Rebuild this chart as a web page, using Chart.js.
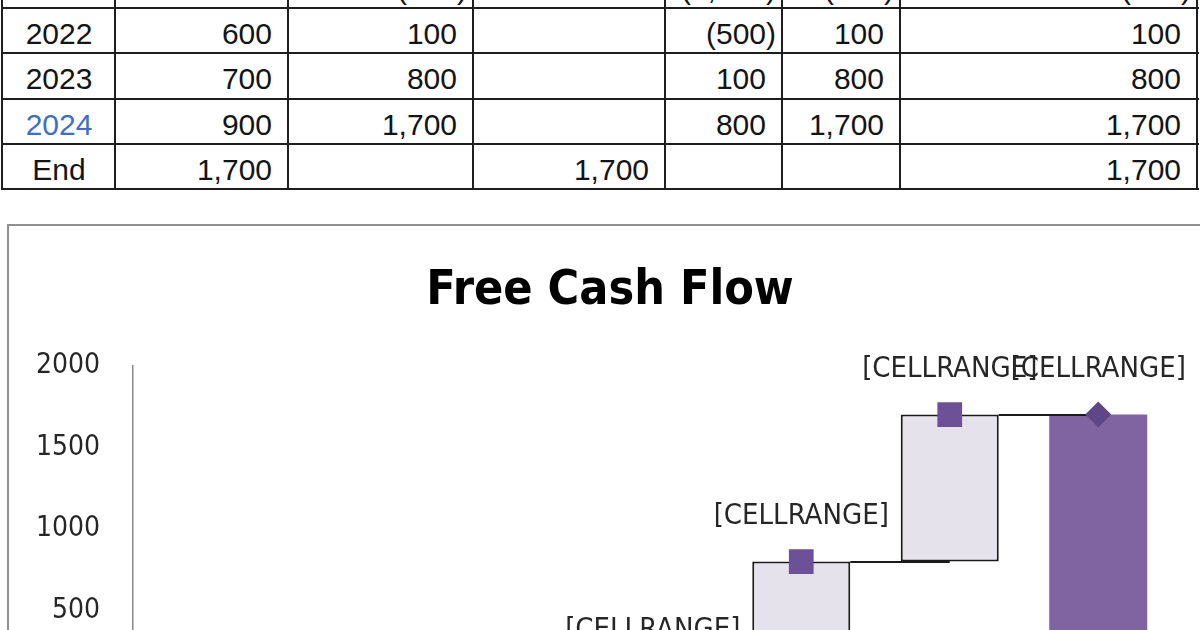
<!DOCTYPE html>
<html><head><meta charset="utf-8">
<script src="https://cdn.jsdelivr.net/npm/chart.js@4.4.0/dist/chart.umd.min.js"></script>
<style>
html,body{margin:0;padding:0;background:#fff;width:1200px;height:630px;overflow:hidden;position:relative;}
.cell{position:absolute;font-family:"Liberation Sans",Arial,sans-serif;font-size:30px;color:#141414;white-space:nowrap;line-height:45px;box-sizing:border-box;}
.hl{position:absolute;height:2px;background:#1e1e1e;}
.vl{position:absolute;width:2px;background:#1e1e1e;}
#frame{position:absolute;left:7px;top:224px;width:1300px;height:600px;border-left:2px solid #8f8f8f;border-top:2px solid #8f8f8f;background:#fff;}
#c{position:absolute;left:10px;top:228px;}
</style>
</head><body>
<div id="tbl"></div>
<div id="frame"></div>
<canvas id="c" width="1200" height="759"></canvas>
<script>
// ---- table data ----
const tableRows = ["2021","2022","2023","2024","End"];
const tblFCF    = [500, 600, 700, 900, 1700];
const tblCum    = [-500, 100, 800, 1700, null];
const tblTotal  = [null, null, null, null, 1700];
const tblBase   = [-1000, -500, 100, 800, null];
const tblTop    = [-500, 100, 800, 1700, null];
const tblLabel  = [-500, 100, 800, 1700, 1700];

// ---- chart data ----
const categories   = ["Start","2020","2021","2022","2023","2024","End"];
const barFrom      = [0, -800, -1000, -500, 100, 800, 0];
const barTo        = [-800, -1000, -500, 100, 800, 1700, 1700];
const markerValues = [-800, -1000, -500, 100, 800, 1700, 1700];
const isTotal      = [true, false, false, false, false, false, true];
const pointLabels  = ["[CELLRANGE]","[CELLRANGE]","[CELLRANGE]","[CELLRANGE]","[CELLRANGE]","[CELLRANGE]","[CELLRANGE]"];
const chartTitle   = "Free Cash Flow";

// ---- build the table ----
(function(){
  const tbl = document.getElementById('tbl');
  const colX = [2,115,288,473,665,782,900,1197];
  const rowY = [-37.3,8,53.3,98.6,144,189.2];
  const cols = [null, tblFCF, tblCum, tblTotal, tblBase, tblTop, tblLabel];
  function fmt(v){
    if (v === null || v === undefined) return '';
    const s = Math.abs(v).toLocaleString('en-US');
    return v < 0 ? '(' + s + ')' : s + '<span style="visibility:hidden">)</span>';
  }
  for (let r = 0; r < tableRows.length; r++) {
    for (let c = 0; c < 7; c++) {
      const d = document.createElement('div');
      d.className = 'cell';
      d.style.left = (colX[c] + 1) + 'px';
      d.style.width = (colX[c+1] - colX[c] - 1) + 'px';
      d.style.top = (rowY[r] + 3) + 'px';
      d.style.height = '45px';
      if (c === 0) {
        d.style.textAlign = 'center';
        d.textContent = tableRows[r];
        if (tableRows[r] === '2024') d.style.color = '#3f6fbf';
      } else {
        d.style.textAlign = 'right';
        d.style.paddingRight = '6px';
        d.innerHTML = fmt(cols[c][r]);
      }
      tbl.appendChild(d);
    }
  }
  rowY.forEach(y => { const l = document.createElement('div'); l.className='hl'; l.style.left='2px'; l.style.width='1197px'; l.style.top=(y-1)+'px'; tbl.appendChild(l); });
  colX.forEach(x => { const l = document.createElement('div'); l.className='vl'; l.style.left=(x-1)+'px'; l.style.top='-40px'; l.style.height='230px'; tbl.appendChild(l); });
})();

// ---- chart ----
const FONT = '"Liberation Sans Narrow","Arial Narrow","DejaVu Sans Condensed",sans-serif';

const connectorPlugin = {
  id: 'connectors',
  afterDatasetDraw(chart, args) {
    if (args.index !== 0) return;
    const meta = args.meta, y = chart.scales.y, ctx = chart.ctx;
    ctx.save();
    ctx.strokeStyle = '#1a1a1a';
    ctx.lineWidth = 2;
    for (let i = 0; i < meta.data.length - 1; i++) {
      const b = meta.data[i], n = meta.data[i+1];
      const py = Math.round(y.getPixelForValue(barTo[i]));
      ctx.beginPath();
      ctx.moveTo(b.x + b.width/2, py);
      ctx.lineTo(n.x, py);
      ctx.stroke();
    }
    ctx.restore();
  }
};

const labelPlugin = {
  id: 'pointLabels',
  afterDatasetsDraw(chart) {
    const meta = chart.getDatasetMeta(1), ctx = chart.ctx;
    ctx.save();
    ctx.font = '29px ' + FONT;
    ctx.fillStyle = '#262626';
    ctx.textAlign = 'center';
    ctx.textBaseline = 'middle';
    meta.data.forEach((p, i) => ctx.fillText(pointLabels[i], p.x, p.y - 45));
    ctx.restore();
  }
};

new Chart(document.getElementById('c'), {
  type: 'bar',
  data: {
    labels: categories,
    datasets: [
      {
        type: 'bar',
        order: 2,
        data: categories.map((_, i) => [barFrom[i], barTo[i]]),
        backgroundColor: isTotal.map(t => t ? '#8064a2' : '#e5e2ec'),
        borderColor: '#1a1a1a',
        borderWidth: isTotal.map(t => t ? 0 : 2),
        borderSkipped: false,
        barPercentage: 0.66,
        categoryPercentage: 1.0
      },
      {
        type: 'line',
        order: 1,
        data: markerValues,
        showLine: false,
        pointStyle: isTotal.map(t => t ? 'rectRot' : 'rect'),
        pointRadius: isTotal.map(t => t ? 13 : 17.5),
        pointBackgroundColor: isTotal.map(t => t ? '#5f4787' : '#6c5098'),
        pointBorderWidth: 0
      }
    ]
  },
  options: {
    responsive: false,
    animation: false,
    layout: { padding: { left: 0, right: 0, top: 0, bottom: 15 } },
    plugins: {
      legend: { display: false },
      tooltip: { enabled: false },
      title: {
        display: true,
        text: chartTitle,
        color: '#000',
        font: { family: FONT, size: 48, weight: 'bold', lineHeight: 1.2 },
        padding: { top: 35, bottom: 45 }
      }
    },
    scales: {
      x: { display: false },
      y: {
        min: -1500, max: 2000,
        grid: { display: false, drawTicks: false },
        border: { display: true, color: '#8a8a8a', width: 1.5 },
        ticks: {
          stepSize: 500,
          padding: 33,
          color: '#262626',
          font: { family: FONT, size: 28 },
          callback: v => String(v)
        },
        afterFit: s => { s.width = 123; }
      },
      yRight: {
        position: 'right',
        display: true,
        grid: { display: false, drawTicks: false },
        border: { display: false },
        ticks: { display: false },
        afterFit: s => { s.width = 37.5; }
      }
    }
  },
  plugins: [connectorPlugin, labelPlugin]
});
</script>
</body></html>
